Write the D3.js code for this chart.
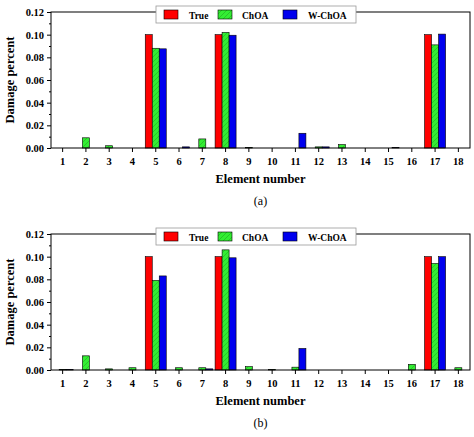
<!DOCTYPE html><html><head><meta charset="utf-8"><script src="https://cdn.jsdelivr.net/npm/d3@7"></script>
<style>body{margin:0;background:#fff}text{font-family:"Liberation Serif","Times New Roman",serif;font-weight:bold}</style></head><body>
<script>
const elements=d3.range(1,19);
const series=["True","ChOA","W-ChOA"];
const yTicks=[0,0.02,0.04,0.06,0.08,0.10,0.12];
const trueA=[0,0,0,0,0.1,0,0,0.1,0,0,0,0,0,0,0,0,0.1,0];
const choaA=[0,0.009,0.002,0,0.088,0,0.008,0.102,0.0005,0,0,0.001,0.003,0,0,0,0.091,0];
const wchoaA=[0,0,0,0,0.0875,0.001,0,0.0995,0,0,0.013,0.001,0,0,0.0003,0,0.1005,0];
const trueB=[0,0,0,0,0.1,0,0,0.1,0,0,0,0,0,0,0,0,0.1,0];
const choaB=[0.0005,0.0125,0.001,0.002,0.079,0.002,0.002,0.106,0.003,0.0005,0.0025,0,0,0,0,0.005,0.094,0.002];
const wchoaB=[0.0005,0,0,0,0.083,0,0.001,0.099,0,0,0.019,0,0,0,0,0,0.1,0];
const panels=[{data:[trueA,choaA,wchoaA],top:12,bottom:148,lab:"(a)"},{data:[trueB,choaB,wchoaB],top:234,bottom:370,lab:"(b)"}];
const svg=d3.select("body").append("svg").attr("width",474).attr("height",437);
const defs=svg.append("defs");
const pat=defs.append("pattern").attr("id","hatch").attr("patternUnits","userSpaceOnUse").attr("width",5).attr("height",5);
pat.append("rect").attr("width",5).attr("height",5).attr("fill","#33ee33");
pat.append("path").attr("d","M-1,6 L6,-1 M4,6 L6,4 M-1,1 L1,-1").attr("stroke","#1f9a1f").attr("stroke-width",0.5);
const fills=["#ff0000","url(#hatch)","#0000ee"];
const L=51,R=470;
const x=d3.scaleBand().domain(elements).range([L,R]);
const xs=d3.scaleBand().domain(series).range([x.bandwidth()/2-10.5,x.bandwidth()/2+10.5]);
panels.forEach(p=>{
  const g=svg.append("g");
  const y=d3.scaleLinear().domain([0,0.12]).range([p.bottom,p.top]);
  series.forEach((s,si)=>{
    const pts=p.data[si].map((v,i)=>({e:elements[i],v})).filter(d=>d.v>0);
    g.selectAll(null).data(pts).enter().append("rect")
      .attr("x",d=>x(d.e)+xs(s))
      .attr("y",d=>y(d.v)).attr("width",xs.bandwidth()).attr("height",d=>p.bottom-y(d.v))
      .attr("fill",fills[si]).attr("stroke","#000").attr("stroke-width",0.6);
  });
  g.append("rect").attr("x",L).attr("y",p.top).attr("width",R-L).attr("height",p.bottom-p.top).attr("fill","none").attr("stroke","#000").attr("stroke-width",1);
  const ya=g.append("g").attr("transform",`translate(${L},0)`).call(d3.axisLeft(y).tickValues(yTicks).tickFormat(d3.format(".2f")).tickSize(4));
  g.append("g").attr("transform",`translate(${L},0)`).call(d3.axisLeft(y).tickValues(d3.range(0.01,0.12,0.02)).tickFormat("").tickSize(2)).select(".domain").remove();
  const xa=g.append("g").attr("transform",`translate(0,${p.bottom})`).call(d3.axisBottom(x).tickSize(4));
  [ya,xa].forEach(a=>{a.selectAll("text").attr("font-size",10.5).attr("fill","#000");a.select(".domain").remove();});
  xa.selectAll("text").attr("dy","0.95em");
  g.append("text").attr("x",(L+R)/2).attr("y",p.bottom+35).attr("text-anchor","middle").attr("font-size",12.5).text("Element number");
  g.append("text").attr("transform",`translate(14,${(p.top+p.bottom)/2}) rotate(-90)`).attr("text-anchor","middle").attr("font-size",12.5).text("Damage percent");
  g.append("text").attr("x",(L+R)/2).attr("y",p.bottom+57).attr("text-anchor","middle").attr("font-size",12).style("font-weight","normal").text(p.lab);
  const lg=g.append("g").attr("transform",`translate(156,${p.top-6})`);
  lg.append("rect").attr("width",200).attr("height",17).attr("fill","#fff").attr("stroke","#999").attr("stroke-width",0.8);
  const lx=[8,62,127];
  const tx=[33,86,152];
  series.forEach((s,si)=>{
    lg.append("rect").attr("x",lx[si]).attr("y",4).attr("width",14).attr("height",9).attr("fill",fills[si]).attr("stroke","#000").attr("stroke-width",0.6);
    lg.append("text").attr("x",tx[si]).attr("y",12.5).attr("font-size",9.5).text(s);
  });
});
</script></body></html>
